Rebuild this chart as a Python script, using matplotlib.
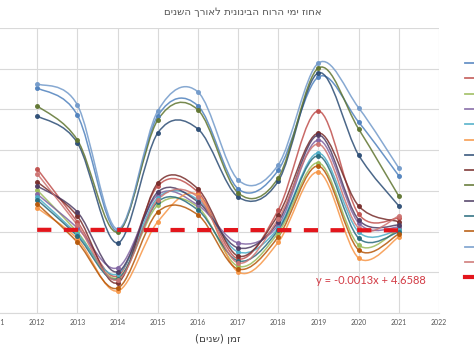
import numpy as np
import matplotlib.pyplot as plt
from matplotlib.path import Path
from matplotlib.patches import PathPatch
from matplotlib.lines import Line2D

# Years on the x axis
years = np.arange(2012, 2022)

# Percentage of moderate-wind days per station
series_01 = [5.53, 4.86, 2.01, 4.84, 5.09, 3.05, 3.51, 5.80, 4.69, 3.37]
series_02 = [3.54, 2.24, 0.91, 3.12, 2.97, 1.33, 2.53, 4.96, 2.43, 2.33]
series_03 = [3.02, 1.99, 0.86, 2.65, 2.60, 1.15, 1.97, 3.69, 1.67, 2.06]
series_04 = [2.92, 2.09, 1.11, 2.90, 2.65, 1.72, 2.16, 4.25, 2.21, 2.11]
series_05 = [2.85, 1.94, 0.96, 2.83, 2.78, 1.50, 2.09, 3.93, 1.99, 2.04]
series_06 = [2.58, 1.82, 0.54, 2.24, 2.90, 1.01, 1.74, 3.46, 1.35, 1.87]
series_07 = [4.84, 4.18, 1.72, 4.42, 4.52, 2.85, 3.24, 5.90, 3.88, 2.63]
series_08 = [3.22, 2.38, 0.74, 3.19, 3.05, 1.40, 2.41, 4.42, 2.63, 2.24]
series_09 = [5.09, 4.25, 1.99, 4.74, 4.99, 2.95, 3.32, 6.02, 4.52, 2.87]
series_10 = [3.12, 2.48, 1.01, 2.97, 2.73, 1.60, 2.24, 4.37, 2.29, 2.16]
series_11 = [2.78, 1.89, 0.84, 2.73, 2.53, 1.28, 2.04, 3.86, 1.84, 1.99]
series_12 = [2.68, 1.74, 0.61, 2.48, 2.41, 1.08, 1.87, 3.61, 1.55, 1.94]
series_13 = [5.63, 5.11, 2.06, 4.96, 5.43, 3.27, 3.64, 6.14, 5.04, 3.56]
series_14 = [3.42, 2.16, 0.81, 2.78, 2.85, 1.23, 2.31, 4.15, 2.09, 2.38]

all_series = [series_01, series_02, series_03, series_04, series_05, series_06, series_07,
              series_08, series_09, series_10, series_11, series_12, series_13, series_14]
colors = ['#4F81BD', '#C0504D', '#9BBB59', '#8064A2', '#4BACC6', '#F79646', '#2C4D75',
          '#772C2A', '#5F7530', '#4D3B62', '#276A7C', '#B65708', '#729ACA', '#CD7371']

# Linear trendline shown on the chart
trend_slope = -0.0013
trend_intercept = 4.6588
trend_label = 'y = -0.0013x + 4.6588'

title = 'אחוז ימי הרוח הבינונית לאורך השנים'
xlabel = 'זמן (שנים)'


def rtl(s):
    # matplotlib has no bidi support: reverse and mirror brackets
    return s[::-1].translate(str.maketrans('()', ')('))


def smooth_path(x, y):
    # Excel style smoothed line: cubic bezier through every point
    pts = np.column_stack([x, y]).astype(float)
    n = len(pts)
    verts = [pts[0]]
    codes = [Path.MOVETO]
    for i in range(n - 1):
        p_prev = pts[max(i - 1, 0)]
        p0 = pts[i]
        p1 = pts[i + 1]
        p_next = pts[min(i + 2, n - 1)]
        c1 = p0 + (p1 - p_prev) / 6
        c2 = p1 - (p_next - p0) / 6
        verts += [c1, c2, p1]
        codes += [Path.CURVE4] * 3
    return Path(verts, codes)


fig = plt.figure(figsize=(4.74, 3.55), dpi=100)
ax = fig.add_axes([-3 / 474, 42 / 355, 442 / 474, 285 / 355])

handles = []
for vals, c in zip(all_series, colors):
    ax.add_patch(PathPatch(smooth_path(years, vals), fill=False, edgecolor=c,
                           lw=1.1, alpha=0.85, zorder=3))
    ax.plot(years, vals, 'o', color=c, ms=2.6, alpha=0.9, zorder=4)
    handles.append(Line2D([], [], color=c, lw=1.3, alpha=0.85, marker='o', ms=2.6))

tx = np.array([years[0], years[-1]])
ty = trend_slope * tx + trend_intercept
ax.plot(tx, ty, color='#E3161C', lw=3, dashes=(3.4, 3.0), zorder=5)
handles.append(Line2D([], [], color='#E3161C', lw=3))

ax.text(2018.94, 0.79, trend_label, ha='left', va='center', color='#D23A44',
        fontsize=8.0, family='Lato')

ax.set_xlim(2011, 2022)
ax.set_ylim(0, 7)
ax.set_xticks(np.arange(2011, 2023))
ax.set_yticks(np.arange(0, 8))
ax.grid(True, color='#D9D9D9', lw=0.8)
ax.set_axisbelow(True)
for side in ['top', 'right', 'left']:
    ax.spines[side].set_visible(False)
ax.spines['bottom'].set_color('#D9D9D9')
ax.spines['bottom'].set_linewidth(0.8)
ax.tick_params(axis='x', length=0, pad=4, labelsize=5, labelcolor='#595959')
ax.tick_params(axis='y', length=0, labelleft=False)
for lab in ax.get_xticklabels():
    lab.set_family('Lato')

ax.set_xlabel(rtl(xlabel), fontsize=7.5, color='#404040', labelpad=6)
fig.text(243 / 474, 1 - 12 / 355, rtl(title), ha='center', va='center',
         fontsize=7.4, color='#595959')

fig.legend(handles, [''] * len(handles), loc='upper left',
           bbox_to_anchor=(465 / 474, 1 - 59 / 355), frameon=False,
           borderpad=0, borderaxespad=0, handlelength=3, handletextpad=0.3,
           labelspacing=0.755, fontsize=6)

fig.savefig('out.png', dpi=100)
